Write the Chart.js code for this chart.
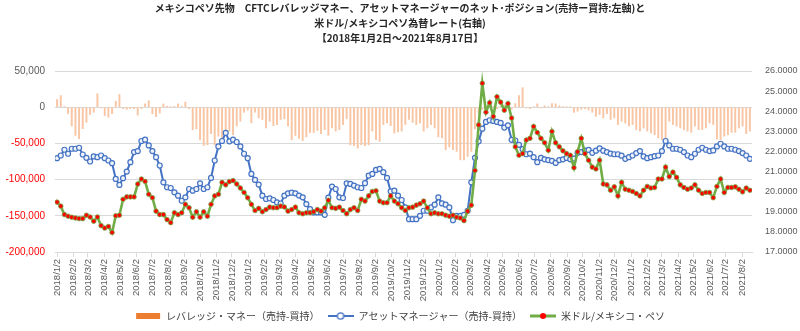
<!DOCTYPE html>
<html><head><meta charset="utf-8">
<script src="https://cdn.jsdelivr.net/npm/chart.js@4/dist/chart.umd.min.js"></script>
<style>html,body{margin:0;padding:0;background:#fff;}canvas{display:block;}</style>
</head><body>
<canvas id="c" width="800" height="331"></canvas>
<script>
const titleLines = [
  "メキシコペソ先物　CFTCレバレッジマネー、アセットマネージャーのネット･ポジション(売持ー買持:左軸)と",
  "米ドル/メキシコペソ為替レート(右軸)",
  "【2018年1月2日～2021年8月17日】"
];
const legendLabels = ["レバレッジ・マネー（売持-買持）", "アセットマネージャー（売持-買持）", "米ドル/メキシコ・ペソ"];

const dates = [
"2018/1/2","2018/1/9","2018/1/16","2018/1/23","2018/1/30","2018/2/6","2018/2/13","2018/2/20","2018/2/27","2018/3/6","2018/3/13","2018/3/20","2018/3/27","2018/4/3","2018/4/10","2018/4/17","2018/4/24","2018/5/1","2018/5/8","2018/5/15","2018/5/22","2018/5/29","2018/6/5","2018/6/12","2018/6/19","2018/6/26","2018/7/3","2018/7/10","2018/7/17","2018/7/24","2018/7/31","2018/8/7","2018/8/14","2018/8/21","2018/8/28","2018/9/4","2018/9/11","2018/9/18","2018/9/25","2018/10/2","2018/10/9","2018/10/16","2018/10/23","2018/10/30","2018/11/6","2018/11/13","2018/11/20","2018/11/27","2018/12/4","2018/12/11","2018/12/18","2018/12/25",
"2019/1/1","2019/1/8","2019/1/15","2019/1/22","2019/1/29","2019/2/5","2019/2/12","2019/2/19","2019/2/26","2019/3/5","2019/3/12","2019/3/19","2019/3/26","2019/4/2","2019/4/9","2019/4/16","2019/4/23","2019/4/30","2019/5/7","2019/5/14","2019/5/21","2019/5/28","2019/6/4","2019/6/11","2019/6/18","2019/6/25","2019/7/2","2019/7/9","2019/7/16","2019/7/23","2019/7/30","2019/8/6","2019/8/13","2019/8/20","2019/8/27","2019/9/3","2019/9/10","2019/9/17","2019/9/24","2019/10/1","2019/10/8","2019/10/15","2019/10/22","2019/10/29","2019/11/5","2019/11/12","2019/11/19","2019/11/26","2019/12/3","2019/12/10","2019/12/17","2019/12/24","2019/12/31",
"2020/1/7","2020/1/14","2020/1/21","2020/1/28","2020/2/4","2020/2/11","2020/2/18","2020/2/25","2020/3/3","2020/3/10","2020/3/17","2020/3/24","2020/3/31","2020/4/7","2020/4/14","2020/4/21","2020/4/28","2020/5/5","2020/5/12","2020/5/19","2020/5/26","2020/6/2","2020/6/9","2020/6/16","2020/6/23","2020/6/30","2020/7/7","2020/7/14","2020/7/21","2020/7/28","2020/8/4","2020/8/11","2020/8/18","2020/8/25","2020/9/1","2020/9/8","2020/9/15","2020/9/22","2020/9/29","2020/10/6","2020/10/13","2020/10/20","2020/10/27","2020/11/3","2020/11/10","2020/11/17","2020/11/24","2020/12/1","2020/12/8","2020/12/15","2020/12/22","2020/12/29",
"2021/1/5","2021/1/12","2021/1/19","2021/1/26","2021/2/2","2021/2/9","2021/2/16","2021/2/23","2021/3/2","2021/3/9","2021/3/16","2021/3/23","2021/3/30","2021/4/6","2021/4/13","2021/4/20","2021/4/27","2021/5/4","2021/5/11","2021/5/18","2021/5/25","2021/6/1","2021/6/8","2021/6/15","2021/6/22","2021/6/29","2021/7/6","2021/7/13","2021/7/20","2021/7/27","2021/8/3","2021/8/10","2021/8/17"
];

const tickLabels = [
"2018/1/2","2018/2/2","2018/3/2","2018/4/2","2018/5/2","2018/6/2","2018/7/2","2018/8/2","2018/9/2","2018/10/2","2018/11/2","2018/12/2",
"2019/1/2","2019/2/2","2019/3/2","2019/4/2","2019/5/2","2019/6/2","2019/7/2","2019/8/2","2019/9/2","2019/10/2","2019/11/2","2019/12/2",
"2020/1/2","2020/2/2","2020/3/2","2020/4/2","2020/5/2","2020/6/2","2020/7/2","2020/8/2","2020/9/2","2020/10/2","2020/11/2","2020/12/2",
"2021/1/2","2021/2/2","2021/3/2","2021/4/2","2021/5/2","2021/6/2","2021/7/2","2021/8/2"
];

const leveraged = [
10600,16000,1000,-8800,-26000,-39000,-43500,-29600,-20800,-10000,
-7000,18500,-1000,-11600,-13900,-9000,8300,17600,-2000,-3000,
-2000,-2000,-11000,-2000,4600,9000,-9000,-13000,-8000,4600,
1400,500,1000,4600,1000,7000,-2000,-31000,-30000,-45000,
-53000,-52000,-36600,-52000,-40000,-45000,-33000,-33000,-38000,-26000,
-19400,-7000,-4000,-21800,-7000,-14800,-17000,-28700,-19400,-25500,
-24000,-17000,-16000,-26000,-45000,-39000,-43000,-46000,-41000,-35000,
-35000,-32000,-36600,-31000,-39000,-28700,-33000,-31000,-24000,-16000,
-52000,-53000,-56500,-52000,-53000,-52000,-33000,-45000,-47000,-24000,
-21800,-25500,-35700,-34000,-33000,-24000,-17000,-21000,-24000,-21800,
-33000,-28700,-24000,-28700,-41000,-42600,-58800,-55000,-58800,-61000,
-72700,-72700,-68000,-61000,-30000,-8000,-3000,2000,3000,1000,
-2000,2000,3000,-2000,-3000,5000,16000,27000,-1000,-2000,
500,4600,-1000,2000,500,5000,4600,2000,500,500,
500,-7000,-5600,-3000,-2000,-4000,-7000,-12500,-10000,-14800,
-9000,-17000,-14800,-24000,-19400,-22000,-26000,-24000,-31000,-33000,
-28700,-33000,-35700,-38000,-42600,-45000,-44000,-19400,-24000,-26000,
-28700,-31000,-33000,-34700,-26000,-31000,-31000,-28700,-21800,-24000,
-44000,-45000,-40000,-38000,-34700,-34700,-28700,-26000,-36600,-33000
];

const assetManager = [
-70400,-66700,-58800,-64300,-57400,-57400,-56000,-65300,-69900,-75000,
-68000,-69000,-66700,-70400,-73600,-77300,-99100,-107400,-98100,-88900,
-75900,-62000,-60600,-46700,-44900,-52800,-60600,-69000,-80500,-103700,
-110600,-111600,-117600,-122200,-129200,-124500,-113000,-115300,-113000,-105100,
-113000,-110600,-97700,-73600,-54200,-46700,-35600,-47200,-44900,-48100,
-54200,-64300,-70400,-92100,-100500,-106900,-122200,-126800,-125900,-128200,
-131500,-133000,-122200,-119000,-118000,-119000,-122000,-124500,-133800,-140700,
-145400,-145400,-145400,-148600,-125000,-109700,-113000,-124500,-125400,-105100,
-106000,-108300,-110600,-111600,-105000,-94400,-92100,-86600,-85200,-89800,
-97700,-116200,-115300,-122000,-128200,-138400,-154600,-154600,-154600,-150000,
-143000,-143000,-138400,-134700,-124500,-132900,-134700,-138400,-156000,-150000,
-150000,-148600,-143000,-103700,-69900,-47200,-29600,-20400,-18000,-19000,
-20400,-21700,-28200,-25000,-45000,-46000,-52000,-58000,-65000,-64000,
-69000,-76000,-70000,-72000,-73000,-74000,-77000,-73000,-72000,-70000,
-72000,-71000,-63000,-62000,-60000,-59000,-63000,-60000,-57000,-60000,
-62000,-64000,-65000,-65000,-67000,-71300,-69000,-66700,-63400,-60600,
-68000,-70400,-69000,-67600,-66700,-60600,-46700,-52800,-57400,-57400,
-58800,-62000,-66700,-69000,-64300,-58800,-56000,-58800,-60600,-59700,
-54200,-50500,-54200,-57400,-57400,-58800,-60600,-63400,-66700,-71300
];

const usdMxn = [
19.48,19.28,18.86,18.78,18.73,18.69,18.66,18.66,18.83,18.74,
18.53,18.74,18.31,18.19,18.27,17.97,18.80,18.83,19.62,19.74,
19.74,19.74,20.38,20.63,20.51,19.87,19.70,19.03,18.86,18.86,
18.61,18.46,18.95,18.86,18.95,19.37,19.20,18.73,19.00,18.73,
19.00,18.78,19.37,19.79,19.87,20.46,20.34,20.50,20.55,20.38,
20.18,19.96,19.70,19.37,19.06,19.17,19.00,19.11,19.23,19.20,
19.20,19.28,19.24,19.03,19.11,19.23,18.95,18.90,18.95,18.95,
19.00,19.11,19.03,19.20,19.57,19.20,19.17,19.23,19.06,18.90,
19.11,19.20,19.06,19.62,19.53,19.79,20.01,20.04,19.53,19.45,
19.45,19.79,19.53,19.40,19.20,19.06,19.20,19.23,19.33,19.40,
19.53,19.20,18.90,18.95,18.90,18.90,18.83,18.78,18.83,18.73,
18.69,18.56,19.03,19.33,21.05,23.32,25.39,23.95,24.42,23.74,
24.72,24.45,24.05,24.38,23.66,22.23,21.81,21.89,22.57,22.65,
23.24,22.94,22.65,22.43,22.06,22.99,22.43,22.23,22.03,21.89,
21.81,21.19,21.98,22.65,21.89,21.56,21.22,21.13,21.56,20.38,
20.34,20.07,20.24,19.79,20.46,20.12,20.07,20.01,19.91,19.79,
20.07,20.26,20.18,20.21,20.63,20.63,21.22,20.75,20.97,20.71,
20.34,20.21,20.12,20.18,20.34,20.07,19.91,19.96,19.96,19.70,
20.26,20.63,19.96,20.21,20.21,20.24,20.12,19.99,20.18,20.07
];

// convert "YYYY/M/D" to days since 2018/1/2
function dayNum(s){const p=s.split('/').map(Number);return Math.round((Date.UTC(p[0],p[1]-1,p[2])-Date.UTC(2018,0,2))/86400000);}
const xDays = dates.map(dayNum);
const tickDays = tickLabels.map(dayNum);
const toPts = arr => arr.map((v,i)=>({x:xDays[i], y:v}));

function legendImg(kind){
  const c=document.createElement('canvas'); c.width=26; c.height=10;
  const g=c.getContext('2d');
  if(kind===0){ g.fillStyle='#ED7D31'; g.fillRect(1,2,24,6); }
  else if(kind===1){ g.strokeStyle='#4472C4'; g.lineWidth=2; g.beginPath(); g.moveTo(0,5); g.lineTo(26,5); g.stroke();
    g.fillStyle='#FFFFFF'; g.lineWidth=1.3; g.beginPath(); g.arc(13,5,3.2,0,Math.PI*2); g.fill(); g.stroke(); }
  else { g.strokeStyle='#70AD47'; g.lineWidth=3; g.beginPath(); g.moveTo(0,5); g.lineTo(26,5); g.stroke();
    g.fillStyle='#FF0000'; g.beginPath(); g.arc(13,5,3,0,Math.PI*2); g.fill(); }
  return c;
}

const numFont = "Arial, 'Liberation Sans', sans-serif";
const ctx=document.getElementById('c').getContext('2d');
new Chart(ctx,{
  type:'bar',
  data:{datasets:[
    {type:'line', label:legendLabels[2], data:toPts(usdMxn), yAxisID:'y1', order:1,
     borderColor:'#70AD47', borderWidth:2.6, pointRadius:2.3, pointBackgroundColor:'#FF0000',
     pointBorderColor:'#70AD47', pointBorderWidth:0.8, tension:0},
    {type:'line', label:legendLabels[1], data:toPts(assetManager), yAxisID:'y', order:2,
     borderColor:'#4472C4', borderWidth:2, pointRadius:2.5, pointBackgroundColor:'#EEF3F8',
     pointBorderColor:'#4472C4', pointBorderWidth:1.2, tension:0},
    {type:'bar', label:legendLabels[0], data:toPts(leveraged), yAxisID:'y', order:3,
     backgroundColor:'#F8C6A4', barThickness:1.3, grouped:false}
  ]},
  options:{
    responsive:false, animation:false,
    layout:{padding:{left:0,right:0,top:0,bottom:0}},
    plugins:{
      tooltip:{enabled:false},
      title:{display:true, text:titleLines, color:'#262626',
        font:{family:"'Noto Sans CJK JP'", size:10, weight:'bold', lineHeight:1.5},
        padding:{top:1,bottom:25}},
      legend:{position:'bottom',
        labels:{usePointStyle:true, pointStyleWidth:26, boxHeight:10, padding:8, color:'#404040',
          font:{family:"'Noto Sans CJK JP'", size:10},
          generateLabels:()=>[0,1,2].map(k=>({text:legendLabels[k], pointStyle:legendImg(k),
            fillStyle:'rgba(0,0,0,0)', strokeStyle:'rgba(0,0,0,0)', lineWidth:0, hidden:false,
            datasetIndex:2-k, fontColor:'#404040'}))}
      }
    },
    scales:{
      x:{type:'linear', min:-4, max:1327, offset:false,
        grid:{display:true, drawOnChartArea:false, drawTicks:true, tickLength:5, color:'#D9D9D9', offset:false},
        border:{display:true, color:'#D9D9D9'},
        afterBuildTicks:s=>{s.ticks=tickDays.map(v=>({value:v}));},
        afterFit:s=>{s.height=51;},
        ticks:{autoSkip:false, maxRotation:90, minRotation:90, padding:2, color:'#595959',
          font:{family:numFont, size:9.5},
          callback:(v,i)=>tickLabels[i]}
      },
      y:{position:'left', min:-200000, max:50000,
        grid:{color:'#D9D9D9', drawTicks:false},
        border:{display:false},
        afterFit:s=>{s.width=55;},
        ticks:{stepSize:50000, padding:10,
          color:c=>(c.tick && c.tick.value<0)?'#FF0000':'#595959',
          font:{family:numFont, size:10},
          callback:v=>Number(v).toLocaleString('en-US')}
      },
      y1:{position:'right', min:17, max:26,
        grid:{display:false, drawOnChartArea:false},
        border:{display:false},
        afterFit:s=>{s.width=48;},
        ticks:{stepSize:1, padding:5, color:'#595959',
          font:{family:numFont, size:9},
          callback:v=>Number(v).toFixed(4)}
      }
    }
  }
});
</script>
</body></html>
